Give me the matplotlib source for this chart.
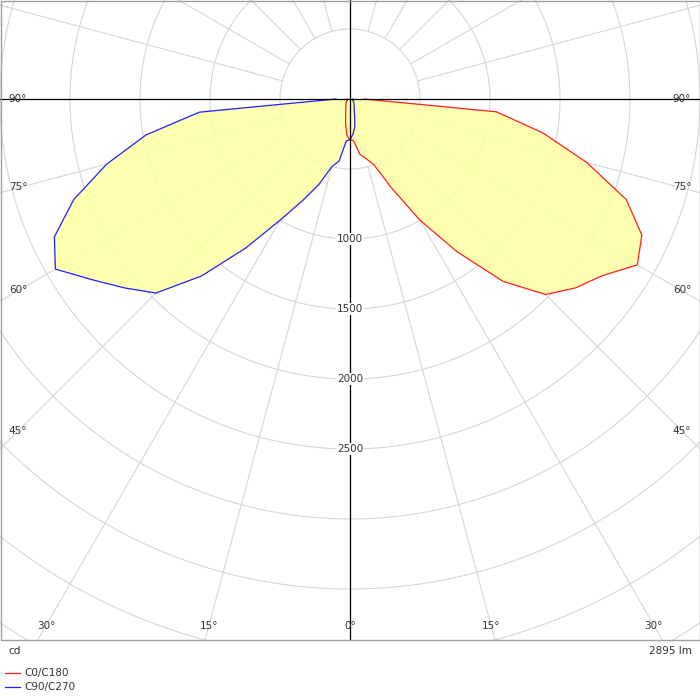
import matplotlib.pyplot as plt
import numpy as np

# luminous intensity (cd) vs gamma angle (deg)
gamma = [0, 5, 10, 15, 20, 25, 30, 35, 40, 45, 50, 55, 60, 65, 70, 75, 80, 85, 90]
c0 = [290, 300, 400, 440, 500, 700, 1000, 1330, 1700, 1975, 2100, 2200, 2370, 2300, 2100, 1750, 1400, 1050, 100]
c180 = [290, 260, 180, 120, 90, 70, 60, 50, 45, 40, 35, 30, 25, 20, 20, 20, 20, 20, 20]
c270 = [290, 300, 450, 500, 650, 800, 1000, 1300, 1650, 1960, 2100, 2250, 2430, 2330, 2100, 1800, 1480, 1080, 100]
c90 = [290, 250, 200, 130, 90, 70, 60, 50, 45, 40, 35, 30, 25, 20, 20, 20, 20, 20, 20]
lumens = 2895

W, H = 700, 700
fig = plt.figure(figsize=(7, 7), dpi=100)
ax = fig.add_axes([0, 60 / H, 1, 640 / H])
s = 1000 / 140.0  # cd per pixel
ax.set_xlim(-350 * s, 350 * s)
ax.set_ylim(-541 * s, 99 * s)
ax.set_axis_off()

for r in range(500, 6001, 500):
    t = np.linspace(0, 2 * np.pi, 400)
    ax.plot(r * np.cos(t), r * np.sin(t), color='#d6d6d6', lw=0.8, zorder=1)
for a in range(0, 360, 15):
    th = np.radians(a)
    ax.plot([500 * np.cos(th), 8000 * np.cos(th)], [500 * np.sin(th), 8000 * np.sin(th)],
            color='#d6d6d6', lw=0.8, zorder=1)

g = np.radians(gamma)

def curve(right, left):
    gg = np.concatenate([-g[::-1], g[1:]])
    rr = np.concatenate([np.array(left)[::-1], np.array(right)[1:]])
    return rr * np.sin(gg), -rr * np.cos(gg)

xr, yr = curve(c0, c180)
xb, yb = curve(c90, c270)
ax.fill(xr, yr, color='#ffffa8', alpha=0.9, zorder=2, lw=0)
ax.fill(xb, yb, color='#ffffa8', alpha=0.9, zorder=2, lw=0)
ax.plot(xr, yr, color='#ff2020', lw=0.9, zorder=3)
ax.plot(xb, yb, color='#2020ff', lw=0.9, zorder=3)

ax.axhline(0, color='black', lw=0.9, zorder=4)
ax.axvline(0, color='black', lw=0.9, zorder=4)

for v in [1000, 1500, 2000, 2500]:
    ax.text(0, -v, str(v), ha='center', va='center', fontsize=7.5, color='#333333',
            bbox=dict(facecolor='white', edgecolor='none', pad=1), zorder=5)

fs = 7.5
def ftxt(x, y, t, ha='center'):
    fig.text(x / W, 1 - y / H, t, ha=ha, va='center', fontsize=fs, color='#333333')

for y, t in [(99, '90°'), (187, '75°'), (290, '60°'), (431, '45°')]:
    ftxt(18, y, t)
    ftxt(682, y, t)
for x, t in [(46, '30°'), (209, '15°'), (350, '0°'), (491, '15°'), (653, '30°')]:
    ftxt(x, 626, t)
ftxt(8, 651, 'cd', ha='left')
ftxt(692, 651, f'{lumens} lm', ha='right')

# frame
fig.add_artist(plt.Rectangle((0.5 / W, 60 / H), 699 / W, 639.5 / H, transform=fig.transFigure,
                             fill=False, edgecolor='#a0a0a0', lw=1))
fig.add_artist(plt.Line2D([5 / W, 20 / W], [1 - 673 / H] * 2, color='#ff2020', lw=0.9))
fig.add_artist(plt.Line2D([5 / W, 20 / W], [1 - 687 / H] * 2, color='#2020ff', lw=0.9))
ftxt(24, 673, 'C0/C180', ha='left')
ftxt(24, 687, 'C90/C270', ha='left')

fig.savefig('out.png', dpi=100, facecolor='white')
